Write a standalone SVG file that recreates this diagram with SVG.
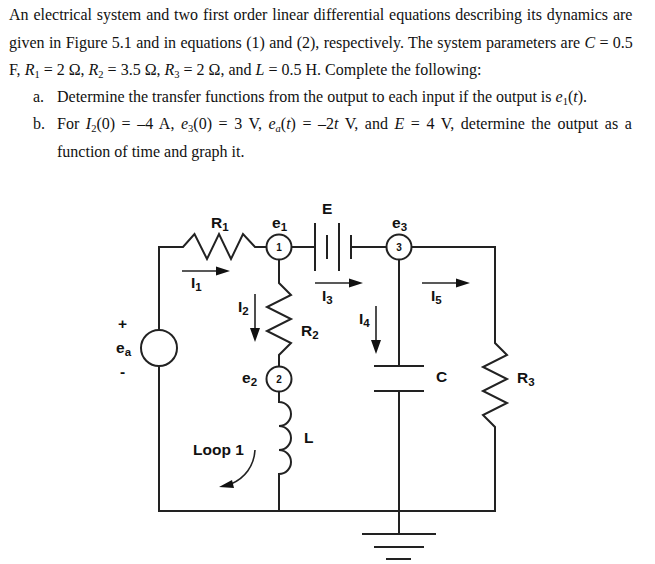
<svg xmlns="http://www.w3.org/2000/svg" width="655" height="564" viewBox="0 0 655 564">
<style>
.b{font-family:"Liberation Serif",serif;font-size:16px;fill:#111}
.b tspan.i{font-style:italic}
.s{font-size:10.500px}
.l{font-family:"Liberation Sans",Arial,sans-serif;font-size:15.500px;font-weight:bold;fill:#111}
.l .s{font-size:11.500px}
.n{font-family:"Liberation Sans",Arial,sans-serif;font-size:10px;font-weight:bold;fill:#111;text-anchor:middle}
.w{fill:none;stroke:#222;stroke-width:2;stroke-linejoin:miter}
.t{fill:none;stroke:#222;stroke-width:1.6}
.c{fill:#fff;stroke:#222;stroke-width:2}
.h{fill:#111;stroke:none}
</style>
<rect width="655" height="564" fill="#fff"/>
<g id="problem-text">
<text class="b" x="9" y="20" word-spacing="0.85">An electrical system and two first order linear differential equations describing its dynamics are</text>
<text class="b" x="9" y="48" word-spacing="0.36">given in Figure 5.1 and in equations (1) and (2), respectively. The system parameters are <tspan class="i">C</tspan> = 0.5</text>
<text class="b" x="9" y="75">F, <tspan class="i">R</tspan><tspan class="s" dy="3">1</tspan><tspan dy="-3"> = 2 Ω, </tspan><tspan class="i">R</tspan><tspan class="s" dy="3">2</tspan><tspan dy="-3"> = 3.5 Ω, </tspan><tspan class="i">R</tspan><tspan class="s" dy="3">3</tspan><tspan dy="-3"> = 2 Ω, and </tspan><tspan class="i">L</tspan> = 0.5 H. Complete the following:</text>
<text class="b" x="33" y="102">a.</text>
<text class="b" x="57" y="102">Determine the transfer functions from the output to each input if the output is <tspan class="i">e</tspan><tspan class="s" dy="3">1</tspan><tspan dy="-3">(</tspan><tspan class="i">t</tspan>).</text>
<text class="b" x="33" y="129">b.</text>
<text class="b" x="57" y="129" word-spacing="2.56">For <tspan class="i">I</tspan><tspan class="s" dy="3">2</tspan><tspan dy="-3">(0) = –4 A, </tspan><tspan class="i">e</tspan><tspan class="s" dy="3">3</tspan><tspan dy="-3">(0) = 3 V, </tspan><tspan class="i">e</tspan><tspan class="s i" dy="3">a</tspan><tspan dy="-3">(</tspan><tspan class="i">t</tspan>) = –2<tspan class="i">t</tspan> V, and <tspan class="i">E</tspan> = 4 V, determine the output as a</text>
<text class="b" x="57" y="157">function of time and graph it.</text>
</g>
<g id="connectors">
<path class="w" d="M159 330V247H183L194.500 234L207 259L219 234L231 259L243 234L255 247H267"/>
<path class="w" d="M291.500 247H315M351 247H386.500M411.500 247H495V343L507 355L483 367L507 379L483 391L507 403L483 415L495 427V511H159V366"/>
<path class="w" d="M279 259.500V283L291 295L267 307L291 319L267 331L291 343L279 355V366.500M279 391.500V402A12 12 0 0 1 279 426A12 12 0 0 1 279 450A12 12 0 0 1 279 474V511"/>
<path class="w" d="M399 259.500V366"/>
<path class="w" d="M374 366L424 366"/>
<path class="w" d="M374 391L424 391"/>
<path class="w" d="M399 391V534"/>
<path class="w" d="M362 534L436 534"/>
<path class="w" d="M374 547L424 547"/>
<path class="w" d="M386 559L411 559"/>
<path class="w" d="M315 223V271M327 235V259M339 223V271M351 235V259"/>
<path class="t" d="M182 271L218 271"/>
<path class="t" d="M255 294V330"/>
<path class="t" d="M315 283L350 283"/>
<path class="t" d="M422 283L458 283"/>
<path class="t" d="M376 306V342"/>
<path class="t" d="M255 450C254 466 245 478 231 484"/>
<path class="h" d="M230 271L216 266.500V275.500ZM255 342L250 328H260ZM363 283L349 278.500V287.500ZM470 283L456 278.500V287.500ZM376 354L371 340H381ZM219 487L232 480L234 488Z"/>
</g>
<g id="source-ea"><circle class="c" cx="159" cy="348" r="18"/>
<text class="l" x="118" y="329">+</text><text class="l" x="116" y="353">e<tspan class="s" dy="3">a</tspan></text><text class="l" x="120" y="377">-</text></g>
<g id="R1"><text class="l" x="211" y="228">R<tspan class="s" dy="3">1</tspan></text></g>
<g id="node-1"><circle class="c" cx="279" cy="247" r="12.500"/><text class="n" x="279" y="251">1</text><text class="l" x="272" y="228">e<tspan class="s" dy="3">1</tspan></text></g>
<g id="battery-E"><text class="l" x="322" y="214">E</text></g>
<g id="node-3"><circle class="c" cx="399" cy="247" r="12.500"/><text class="n" x="399" y="251">3</text><text class="l" x="392" y="228">e<tspan class="s" dy="3">3</tspan></text></g>
<g id="node-2"><circle class="c" cx="279" cy="379" r="12.500"/><text class="n" x="279" y="383">2</text><text class="l" x="242" y="383">e<tspan class="s" dy="3">2</tspan></text></g>
<g id="R2"><text class="l" x="301" y="336">R<tspan class="s" dy="3">2</tspan></text></g>
<g id="R3"><text class="l" x="517" y="383">R<tspan class="s" dy="3">3</tspan></text></g>
<g id="L"><text class="l" x="304" y="443">L</text></g>
<g id="C"><text class="l" x="436" y="382">C</text></g>
<g id="currents">
<text class="l" x="191" y="288">I<tspan class="s" dy="3">1</tspan></text>
<text class="l" x="238" y="312">I<tspan class="s" dy="3">2</tspan></text>
<text class="l" x="322" y="301">I<tspan class="s" dy="3">3</tspan></text>
<text class="l" x="359" y="324">I<tspan class="s" dy="3">4</tspan></text>
<text class="l" x="431" y="301">I<tspan class="s" dy="3">5</tspan></text>
</g>
<g id="loop-1"><text class="l" x="193" y="455">Loop 1</text></g>
</svg>
